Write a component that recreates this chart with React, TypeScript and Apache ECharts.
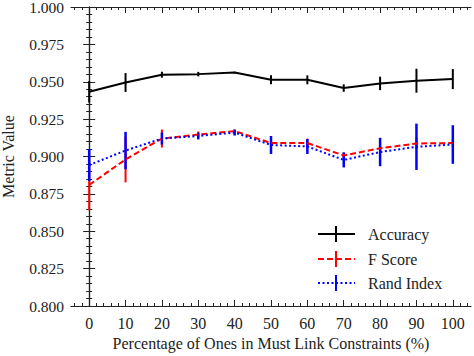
import React, { useEffect, useRef } from "react";
import * as echarts from "echarts";

const xValues = [0, 10, 20, 30, 40, 50, 60, 70, 80, 90, 100];
const accuracy = [0.9433, 0.9495, 0.9547, 0.9551, 0.9562, 0.9513, 0.9513, 0.9458, 0.9489, 0.9507, 0.9518];
const accuracyErr = [0.0072, 0.0063, 0.002, 0.0015, 0.0005, 0.003, 0.003, 0.0025, 0.0045, 0.008, 0.0067];
const fScore = [0.881, 0.898, 0.912, 0.9147, 0.917, 0.909, 0.909, 0.9007, 0.9055, 0.9087, 0.909];
const fScoreErr = [0.017, 0.0153, 0.006, 0.002, 0.001, 0.003, 0.003, 0.002, 0.003, 0.004, 0.003];
const randIndex = [0.8943, 0.904, 0.912, 0.9137, 0.916, 0.9077, 0.9067, 0.8977, 0.903, 0.9065, 0.908];
const randErr = [0.0107, 0.0125, 0.004, 0.0023, 0.002, 0.006, 0.005, 0.005, 0.0095, 0.0155, 0.0129];

const xMajor = [0, 10, 20, 30, 40, 50, 60, 70, 80, 90, 100];
const xMinor = [-4, -2, 2, 4, 6, 8, 12, 14, 16, 18, 22, 24, 26, 28, 32, 34, 36, 38, 42, 44, 46, 48, 52, 54, 56, 58, 62, 64, 66, 68, 72, 74, 76, 78, 82, 84, 86, 88, 92, 94, 96, 98, 102, 104];

const FONT = "Liberation Serif";

function errSeries(name: string, vals: number[], errs: number[], color: string, width: number) {
  const data = xValues.map((x, i) => [x, vals[i] - errs[i], vals[i] + errs[i]]);
  return {
    type: "custom",
    name: name + " err",
    xAxisIndex: 0,
    yAxisIndex: 0,
    data,
    renderItem: (params: any, api: any) => {
      const p1 = api.coord([api.value(0), api.value(1)]);
      const p2 = api.coord([api.value(0), api.value(2)]);
      return {
        type: "line",
        shape: { x1: p1[0], y1: p1[1], x2: p2[0], y2: p2[1] },
        style: { stroke: color, lineWidth: width },
      };
    },
    silent: true,
    z: 3,
  };
}

function lineSeries(name: string, vals: number[], color: string, dash: any) {
  return {
    type: "line",
    name,
    xAxisIndex: 0,
    yAxisIndex: 0,
    data: xValues.map((x, i) => [x, vals[i]]),
    showSymbol: false,
    symbol: "none",
    lineStyle: { color, width: 2, type: dash },
    silent: true,
    z: 3,
  };
}

export default function App() {
  const ref = useRef<HTMLDivElement>(null);
  useEffect(() => {
    if (!ref.current) return;
    const chart = echarts.init(ref.current, null, { renderer: "svg" });
    const baseX = {
      type: "value",
      min: -5,
      max: 105,
      splitLine: { show: false },
    };
    const baseY = {
      type: "value",
      min: 0.8,
      max: 1.0,
      interval: 0.025,
      splitLine: { show: false },
    };
    const legendItems = [
      { label: "Accuracy", color: "#000000", dash: null, y: 234 },
      { label: "F Score", color: "#ff0000", dash: [6, 3], y: 259 },
      { label: "Rand Index", color: "#0000ff", dash: [2, 2.5], y: 283 },
    ];
    const graphic: any[] = [];
    legendItems.forEach((it) => {
      graphic.push({
        type: "line",
        shape: { x1: 318, y1: it.y, x2: 355, y2: it.y },
        style: { stroke: it.color, lineWidth: 2, lineDash: it.dash || undefined },
      });
      graphic.push({
        type: "line",
        shape: { x1: 336, y1: it.y - 8, x2: 336, y2: it.y + 8 },
        style: { stroke: it.color, lineWidth: 2 },
      });
      graphic.push({
        type: "text",
        x: 368,
        y: it.y,
        style: { text: it.label, font: `16px "${FONT}"`, fill: "#222", verticalAlign: "middle" },
      });
    });
    chart.setOption({
      animation: false,
      textStyle: { fontFamily: FONT },
      grid: { left: 71, right: 3, top: 7, bottom: 50, containLabel: false, outerBoundsMode: "none" },
      xAxis: [
        {
          ...baseX,
          position: "bottom",
          name: "Percentage of Ones in Must Link Constraints (%)",
          nameLocation: "middle",
          nameGap: 29,
          nameTextStyle: { fontFamily: FONT, fontSize: 16, color: "#222" },
          axisLine: { lineStyle: { color: "#222", width: 1.2 } },
          axisTick: { show: true, inside: true, length: 6, customValues: xMajor, lineStyle: { color: "#222" } },
          axisLabel: { customValues: xMajor, fontFamily: FONT, fontSize: 16, color: "#222", margin: 9 },
        },
        {
          ...baseX,
          position: "bottom",
          axisLine: { show: false },
          axisTick: { show: true, inside: true, length: 3, customValues: xMinor, lineStyle: { color: "#222" } },
          axisLabel: { show: false },
        },
        {
          ...baseX,
          position: "top",
          axisLine: { lineStyle: { color: "#222", width: 1.2 } },
          axisTick: { show: true, inside: true, length: 6, customValues: xMajor, lineStyle: { color: "#222" } },
          axisLabel: { show: false },
        },
        {
          ...baseX,
          position: "top",
          axisLine: { show: false },
          axisTick: { show: true, inside: true, length: 3, customValues: xMinor, lineStyle: { color: "#222" } },
          axisLabel: { show: false },
        },
      ],
      yAxis: [
        {
          ...baseY,
          position: "left",
          name: "Metric Value",
          nameLocation: "middle",
          nameGap: 55,
          nameTextStyle: { fontFamily: FONT, fontSize: 16, color: "#222" },
          axisLine: { show: true, lineStyle: { color: "#222", width: 1.2 } },
          axisTick: { show: true, inside: true, length: 6, lineStyle: { color: "#222" } },
          minorTick: { show: true, splitNumber: 5, length: 3, lineStyle: { color: "#222" } },
          axisLabel: { fontFamily: FONT, fontSize: 15.5, color: "#222", margin: 7, formatter: (v: number) => v.toFixed(3) },
        },
        {
          ...baseY,
          position: "right",
          axisLine: { show: true, lineStyle: { color: "#222", width: 1.2 } },
          axisTick: { show: true, inside: true, length: 6, lineStyle: { color: "#222" } },
          minorTick: { show: true, splitNumber: 5, length: 3, lineStyle: { color: "#222" } },
          axisLabel: { show: false },
        },
      ],
      series: [
        lineSeries("Accuracy", accuracy, "#000000", "solid"),
        errSeries("Accuracy", accuracy, accuracyErr, "#000000", 2),
        lineSeries("F Score", fScore, "#ff0000", [6, 3]),
        errSeries("F Score", fScore, fScoreErr, "#ff0000", 2),
        lineSeries("Rand Index", randIndex, "#0000ff", [2, 2.5]),
        errSeries("Rand Index", randIndex, randErr, "#0000ff", 2.5),
      ],
      graphic,
    });
    return () => chart.dispose();
  }, []);
  return <div ref={ref} style={{ width: 474, height: 356, position: "absolute", left: 0, top: 0 }} />;
}
